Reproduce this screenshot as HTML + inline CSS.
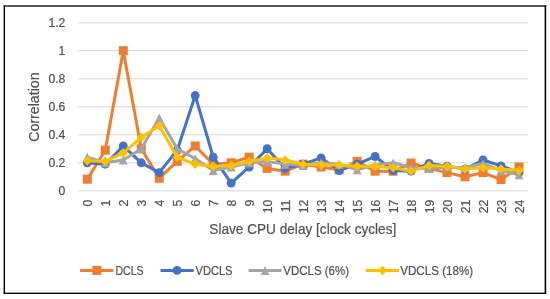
<!DOCTYPE html>
<html><head><meta charset="utf-8"><title>Correlation vs Slave CPU delay</title>
<style>
html,body{margin:0;padding:0;background:#fff;}
body{width:550px;height:299px;overflow:hidden;}
svg{display:block;}
.t{font-family:"Liberation Sans",Arial,sans-serif;font-size:12.2px;fill:#505050;stroke:#505050;stroke-width:0.2px;}
.ti{font-family:"Liberation Sans",Arial,sans-serif;font-size:14.2px;fill:#505050;stroke:#505050;stroke-width:0.2px;}
.tl{font-family:"Liberation Sans",Arial,sans-serif;font-size:12px;fill:#505050;stroke:#505050;stroke-width:0.2px;}
</style></head>
<body>
<svg width="550" height="299" viewBox="0 0 550 299">
<rect width="550" height="299" fill="#fff"/>
<line x1="78.3" y1="190.80" x2="528.0" y2="190.80" stroke="#D9D9D9" stroke-width="1"/>
<line x1="78.3" y1="162.78" x2="528.0" y2="162.78" stroke="#D9D9D9" stroke-width="1"/>
<line x1="78.3" y1="134.76" x2="528.0" y2="134.76" stroke="#D9D9D9" stroke-width="1"/>
<line x1="78.3" y1="106.74" x2="528.0" y2="106.74" stroke="#D9D9D9" stroke-width="1"/>
<line x1="78.3" y1="78.72" x2="528.0" y2="78.72" stroke="#D9D9D9" stroke-width="1"/>
<line x1="78.3" y1="50.70" x2="528.0" y2="50.70" stroke="#D9D9D9" stroke-width="1"/>
<line x1="78.3" y1="22.68" x2="528.0" y2="22.68" stroke="#D9D9D9" stroke-width="1"/>
<text x="65.4" y="194.80" text-anchor="end" class="t">0</text>
<text x="65.4" y="166.78" text-anchor="end" class="t">0.2</text>
<text x="65.4" y="138.76" text-anchor="end" class="t">0.4</text>
<text x="65.4" y="110.74" text-anchor="end" class="t">0.6</text>
<text x="65.4" y="82.72" text-anchor="end" class="t">0.8</text>
<text x="65.4" y="54.70" text-anchor="end" class="t">1</text>
<text x="65.4" y="26.68" text-anchor="end" class="t">1.2</text>
<text transform="translate(92.09,199.6) rotate(-90)" text-anchor="end" class="t">0</text>
<text transform="translate(110.08,199.6) rotate(-90)" text-anchor="end" class="t">1</text>
<text transform="translate(128.07,199.6) rotate(-90)" text-anchor="end" class="t">2</text>
<text transform="translate(146.06,199.6) rotate(-90)" text-anchor="end" class="t">3</text>
<text transform="translate(164.05,199.6) rotate(-90)" text-anchor="end" class="t">4</text>
<text transform="translate(182.03,199.6) rotate(-90)" text-anchor="end" class="t">5</text>
<text transform="translate(200.02,199.6) rotate(-90)" text-anchor="end" class="t">6</text>
<text transform="translate(218.01,199.6) rotate(-90)" text-anchor="end" class="t">7</text>
<text transform="translate(236.00,199.6) rotate(-90)" text-anchor="end" class="t">8</text>
<text transform="translate(253.99,199.6) rotate(-90)" text-anchor="end" class="t">9</text>
<text transform="translate(271.97,199.6) rotate(-90)" text-anchor="end" class="t">10</text>
<text transform="translate(289.96,199.6) rotate(-90)" text-anchor="end" class="t">11</text>
<text transform="translate(307.95,199.6) rotate(-90)" text-anchor="end" class="t">12</text>
<text transform="translate(325.94,199.6) rotate(-90)" text-anchor="end" class="t">13</text>
<text transform="translate(343.93,199.6) rotate(-90)" text-anchor="end" class="t">14</text>
<text transform="translate(361.91,199.6) rotate(-90)" text-anchor="end" class="t">15</text>
<text transform="translate(379.90,199.6) rotate(-90)" text-anchor="end" class="t">16</text>
<text transform="translate(397.89,199.6) rotate(-90)" text-anchor="end" class="t">17</text>
<text transform="translate(415.88,199.6) rotate(-90)" text-anchor="end" class="t">18</text>
<text transform="translate(433.87,199.6) rotate(-90)" text-anchor="end" class="t">19</text>
<text transform="translate(451.85,199.6) rotate(-90)" text-anchor="end" class="t">20</text>
<text transform="translate(469.84,199.6) rotate(-90)" text-anchor="end" class="t">21</text>
<text transform="translate(487.83,199.6) rotate(-90)" text-anchor="end" class="t">22</text>
<text transform="translate(505.82,199.6) rotate(-90)" text-anchor="end" class="t">23</text>
<text transform="translate(523.81,199.6) rotate(-90)" text-anchor="end" class="t">24</text>
<polyline points="87.29,179.17 105.28,150.17 123.27,50.70 141.26,148.77 159.25,178.19 177.23,161.38 195.22,145.97 213.21,164.18 231.20,162.78 249.19,157.18 267.17,168.38 285.16,171.19 303.15,164.18 321.14,166.98 339.13,169.79 357.11,161.38 375.10,171.19 393.09,171.19 411.08,163.06 429.07,168.38 447.05,172.59 465.04,176.79 483.03,172.59 501.02,179.59 519.01,166.98" fill="none" stroke="#ED7D31" stroke-width="3" stroke-linejoin="round" stroke-linecap="round"/>
<rect x="82.79" y="174.67" width="9.0" height="9.0" fill="#ED7D31"/>
<rect x="100.78" y="145.67" width="9.0" height="9.0" fill="#ED7D31"/>
<rect x="118.77" y="46.20" width="9.0" height="9.0" fill="#ED7D31"/>
<rect x="136.76" y="144.27" width="9.0" height="9.0" fill="#ED7D31"/>
<rect x="154.75" y="173.69" width="9.0" height="9.0" fill="#ED7D31"/>
<rect x="172.73" y="156.88" width="9.0" height="9.0" fill="#ED7D31"/>
<rect x="190.72" y="141.47" width="9.0" height="9.0" fill="#ED7D31"/>
<rect x="208.71" y="159.68" width="9.0" height="9.0" fill="#ED7D31"/>
<rect x="226.70" y="158.28" width="9.0" height="9.0" fill="#ED7D31"/>
<rect x="244.69" y="152.68" width="9.0" height="9.0" fill="#ED7D31"/>
<rect x="262.67" y="163.88" width="9.0" height="9.0" fill="#ED7D31"/>
<rect x="280.66" y="166.69" width="9.0" height="9.0" fill="#ED7D31"/>
<rect x="298.65" y="159.68" width="9.0" height="9.0" fill="#ED7D31"/>
<rect x="316.64" y="162.48" width="9.0" height="9.0" fill="#ED7D31"/>
<rect x="334.63" y="165.29" width="9.0" height="9.0" fill="#ED7D31"/>
<rect x="352.61" y="156.88" width="9.0" height="9.0" fill="#ED7D31"/>
<rect x="370.60" y="166.69" width="9.0" height="9.0" fill="#ED7D31"/>
<rect x="388.59" y="166.69" width="9.0" height="9.0" fill="#ED7D31"/>
<rect x="406.58" y="158.56" width="9.0" height="9.0" fill="#ED7D31"/>
<rect x="424.57" y="163.88" width="9.0" height="9.0" fill="#ED7D31"/>
<rect x="442.55" y="168.09" width="9.0" height="9.0" fill="#ED7D31"/>
<rect x="460.54" y="172.29" width="9.0" height="9.0" fill="#ED7D31"/>
<rect x="478.53" y="168.09" width="9.0" height="9.0" fill="#ED7D31"/>
<rect x="496.52" y="175.09" width="9.0" height="9.0" fill="#ED7D31"/>
<rect x="514.51" y="162.48" width="9.0" height="9.0" fill="#ED7D31"/>
<polyline points="87.29,162.78 105.28,164.18 123.27,145.97 141.26,162.78 159.25,172.59 177.23,150.17 195.22,95.53 213.21,157.18 231.20,183.09 249.19,166.98 267.17,148.77 285.16,168.38 303.15,164.18 321.14,157.88 339.13,170.49 357.11,164.18 375.10,156.48 393.09,170.49 411.08,171.19 429.07,163.48 447.05,166.28 465.04,169.08 483.03,159.98 501.02,165.86 519.01,172.59" fill="none" stroke="#4472C4" stroke-width="3" stroke-linejoin="round" stroke-linecap="round"/>
<circle cx="87.29" cy="162.78" r="4.45" fill="#4472C4"/>
<circle cx="105.28" cy="164.18" r="4.45" fill="#4472C4"/>
<circle cx="123.27" cy="145.97" r="4.45" fill="#4472C4"/>
<circle cx="141.26" cy="162.78" r="4.45" fill="#4472C4"/>
<circle cx="159.25" cy="172.59" r="4.45" fill="#4472C4"/>
<circle cx="177.23" cy="150.17" r="4.45" fill="#4472C4"/>
<circle cx="195.22" cy="95.53" r="4.45" fill="#4472C4"/>
<circle cx="213.21" cy="157.18" r="4.45" fill="#4472C4"/>
<circle cx="231.20" cy="183.09" r="4.45" fill="#4472C4"/>
<circle cx="249.19" cy="166.98" r="4.45" fill="#4472C4"/>
<circle cx="267.17" cy="148.77" r="4.45" fill="#4472C4"/>
<circle cx="285.16" cy="168.38" r="4.45" fill="#4472C4"/>
<circle cx="303.15" cy="164.18" r="4.45" fill="#4472C4"/>
<circle cx="321.14" cy="157.88" r="4.45" fill="#4472C4"/>
<circle cx="339.13" cy="170.49" r="4.45" fill="#4472C4"/>
<circle cx="357.11" cy="164.18" r="4.45" fill="#4472C4"/>
<circle cx="375.10" cy="156.48" r="4.45" fill="#4472C4"/>
<circle cx="393.09" cy="170.49" r="4.45" fill="#4472C4"/>
<circle cx="411.08" cy="171.19" r="4.45" fill="#4472C4"/>
<circle cx="429.07" cy="163.48" r="4.45" fill="#4472C4"/>
<circle cx="447.05" cy="166.28" r="4.45" fill="#4472C4"/>
<circle cx="465.04" cy="169.08" r="4.45" fill="#4472C4"/>
<circle cx="483.03" cy="159.98" r="4.45" fill="#4472C4"/>
<circle cx="501.02" cy="165.86" r="4.45" fill="#4472C4"/>
<circle cx="519.01" cy="172.59" r="4.45" fill="#4472C4"/>
<polyline points="87.29,157.18 105.28,162.78 123.27,159.98 141.26,148.77 159.25,117.95 177.23,148.77 195.22,158.58 213.21,170.49 231.20,166.98 249.19,162.78 267.17,161.38 285.16,164.18 303.15,165.58 321.14,162.78 339.13,164.18 357.11,169.79 375.10,164.88 393.09,162.78 411.08,167.68 429.07,168.38 447.05,166.98 465.04,167.68 483.03,163.48 501.02,170.49 519.01,174.69" fill="none" stroke="#A5A5A5" stroke-width="3" stroke-linejoin="round" stroke-linecap="round"/>
<polygon points="87.29,152.78 91.69,161.68 82.89,161.68" fill="#A5A5A5"/>
<polygon points="105.28,158.38 109.68,167.28 100.88,167.28" fill="#A5A5A5"/>
<polygon points="123.27,155.58 127.67,164.48 118.87,164.48" fill="#A5A5A5"/>
<polygon points="141.26,144.37 145.66,153.27 136.86,153.27" fill="#A5A5A5"/>
<polygon points="159.25,113.55 163.65,122.45 154.85,122.45" fill="#A5A5A5"/>
<polygon points="177.23,144.37 181.63,153.27 172.83,153.27" fill="#A5A5A5"/>
<polygon points="195.22,154.18 199.62,163.08 190.82,163.08" fill="#A5A5A5"/>
<polygon points="213.21,166.09 217.61,174.99 208.81,174.99" fill="#A5A5A5"/>
<polygon points="231.20,162.58 235.60,171.48 226.80,171.48" fill="#A5A5A5"/>
<polygon points="249.19,158.38 253.59,167.28 244.79,167.28" fill="#A5A5A5"/>
<polygon points="267.17,156.98 271.57,165.88 262.77,165.88" fill="#A5A5A5"/>
<polygon points="285.16,159.78 289.56,168.68 280.76,168.68" fill="#A5A5A5"/>
<polygon points="303.15,161.18 307.55,170.08 298.75,170.08" fill="#A5A5A5"/>
<polygon points="321.14,158.38 325.54,167.28 316.74,167.28" fill="#A5A5A5"/>
<polygon points="339.13,159.78 343.53,168.68 334.73,168.68" fill="#A5A5A5"/>
<polygon points="357.11,165.39 361.51,174.29 352.71,174.29" fill="#A5A5A5"/>
<polygon points="375.10,160.48 379.50,169.38 370.70,169.38" fill="#A5A5A5"/>
<polygon points="393.09,158.38 397.49,167.28 388.69,167.28" fill="#A5A5A5"/>
<polygon points="411.08,163.28 415.48,172.18 406.68,172.18" fill="#A5A5A5"/>
<polygon points="429.07,163.98 433.47,172.88 424.67,172.88" fill="#A5A5A5"/>
<polygon points="447.05,162.58 451.45,171.48 442.65,171.48" fill="#A5A5A5"/>
<polygon points="465.04,163.28 469.44,172.18 460.64,172.18" fill="#A5A5A5"/>
<polygon points="483.03,159.08 487.43,167.98 478.63,167.98" fill="#A5A5A5"/>
<polygon points="501.02,166.09 505.42,174.99 496.62,174.99" fill="#A5A5A5"/>
<polygon points="519.01,170.29 523.41,179.19 514.61,179.19" fill="#A5A5A5"/>
<polyline points="87.29,160.68 105.28,161.38 123.27,152.97 141.26,137.56 159.25,125.65 177.23,157.18 195.22,164.18 213.21,166.28 231.20,165.58 249.19,161.38 267.17,157.88 285.16,159.98 303.15,164.18 321.14,164.88 339.13,164.88 357.11,166.28 375.10,166.28 393.09,167.68 411.08,171.19 429.07,165.58 447.05,166.28 465.04,169.08 483.03,167.68 501.02,169.08 519.01,170.49" fill="none" stroke="#FFC000" stroke-width="3" stroke-linejoin="round" stroke-linecap="round"/>
<polygon points="87.29,155.93 92.04,160.68 87.29,165.43 82.54,160.68" fill="#FFC000"/>
<polygon points="105.28,156.63 110.03,161.38 105.28,166.13 100.53,161.38" fill="#FFC000"/>
<polygon points="123.27,148.22 128.02,152.97 123.27,157.72 118.52,152.97" fill="#FFC000"/>
<polygon points="141.26,132.81 146.01,137.56 141.26,142.31 136.51,137.56" fill="#FFC000"/>
<polygon points="159.25,120.90 164.00,125.65 159.25,130.40 154.50,125.65" fill="#FFC000"/>
<polygon points="177.23,152.43 181.98,157.18 177.23,161.93 172.48,157.18" fill="#FFC000"/>
<polygon points="195.22,159.43 199.97,164.18 195.22,168.93 190.47,164.18" fill="#FFC000"/>
<polygon points="213.21,161.53 217.96,166.28 213.21,171.03 208.46,166.28" fill="#FFC000"/>
<polygon points="231.20,160.83 235.95,165.58 231.20,170.33 226.45,165.58" fill="#FFC000"/>
<polygon points="249.19,156.63 253.94,161.38 249.19,166.13 244.44,161.38" fill="#FFC000"/>
<polygon points="267.17,153.13 271.92,157.88 267.17,162.63 262.42,157.88" fill="#FFC000"/>
<polygon points="285.16,155.23 289.91,159.98 285.16,164.73 280.41,159.98" fill="#FFC000"/>
<polygon points="303.15,159.43 307.90,164.18 303.15,168.93 298.40,164.18" fill="#FFC000"/>
<polygon points="321.14,160.13 325.89,164.88 321.14,169.63 316.39,164.88" fill="#FFC000"/>
<polygon points="339.13,160.13 343.88,164.88 339.13,169.63 334.38,164.88" fill="#FFC000"/>
<polygon points="357.11,161.53 361.86,166.28 357.11,171.03 352.36,166.28" fill="#FFC000"/>
<polygon points="375.10,161.53 379.85,166.28 375.10,171.03 370.35,166.28" fill="#FFC000"/>
<polygon points="393.09,162.93 397.84,167.68 393.09,172.43 388.34,167.68" fill="#FFC000"/>
<polygon points="411.08,166.44 415.83,171.19 411.08,175.94 406.33,171.19" fill="#FFC000"/>
<polygon points="429.07,160.83 433.82,165.58 429.07,170.33 424.32,165.58" fill="#FFC000"/>
<polygon points="447.05,161.53 451.80,166.28 447.05,171.03 442.30,166.28" fill="#FFC000"/>
<polygon points="465.04,164.33 469.79,169.08 465.04,173.83 460.29,169.08" fill="#FFC000"/>
<polygon points="483.03,162.93 487.78,167.68 483.03,172.43 478.28,167.68" fill="#FFC000"/>
<polygon points="501.02,164.33 505.77,169.08 501.02,173.83 496.27,169.08" fill="#FFC000"/>
<polygon points="519.01,165.74 523.76,170.49 519.01,175.24 514.26,170.49" fill="#FFC000"/>
<text transform="translate(39.4,107.1) rotate(-90)" text-anchor="middle" class="ti">Correlation</text>
<text x="302.8" y="233.5" text-anchor="middle" class="ti" textLength="187" lengthAdjust="spacingAndGlyphs">Slave CPU delay [clock cycles]</text>
<line x1="80.1" y1="270.4" x2="113.5" y2="270.4" stroke="#ED7D31" stroke-width="3" stroke-linecap="butt"/>
<rect x="92.30" y="265.90" width="9.0" height="9.0" fill="#ED7D31"/>
<text x="115.4" y="274.60" class="tl" textLength="28.2" lengthAdjust="spacingAndGlyphs">DCLS</text>
<line x1="160.5" y1="270.4" x2="193.7" y2="270.4" stroke="#4472C4" stroke-width="3" stroke-linecap="butt"/>
<circle cx="177.10" cy="270.40" r="4.45" fill="#4472C4"/>
<text x="195.5" y="274.60" class="tl" textLength="37.0" lengthAdjust="spacingAndGlyphs">VDCLS</text>
<line x1="248.7" y1="270.4" x2="281.5" y2="270.4" stroke="#A5A5A5" stroke-width="3" stroke-linecap="butt"/>
<polygon points="265.10,266.00 269.50,274.90 260.70,274.90" fill="#A5A5A5"/>
<text x="283.3" y="274.60" class="tl" textLength="65.7" lengthAdjust="spacingAndGlyphs">VDCLS (6%)</text>
<line x1="366.0" y1="270.4" x2="399.0" y2="270.4" stroke="#FFC000" stroke-width="3" stroke-linecap="butt"/>
<polygon points="382.50,265.65 387.25,270.40 382.50,275.15 377.75,270.40" fill="#FFC000"/>
<text x="400.2" y="274.60" class="tl" textLength="73.0" lengthAdjust="spacingAndGlyphs">VDCLS (18%)</text>
<rect x="3.55" y="5.35" width="542.65" height="1.3" fill="#000"/>
<rect x="3.6" y="292.65" width="542.6" height="1.35" fill="#000"/>
<rect x="3.6" y="5.35" width="1.4" height="288.65" fill="#000"/>
<rect x="544.6" y="5.35" width="1.6" height="288.7" fill="#000"/>
</svg>
</body></html>
